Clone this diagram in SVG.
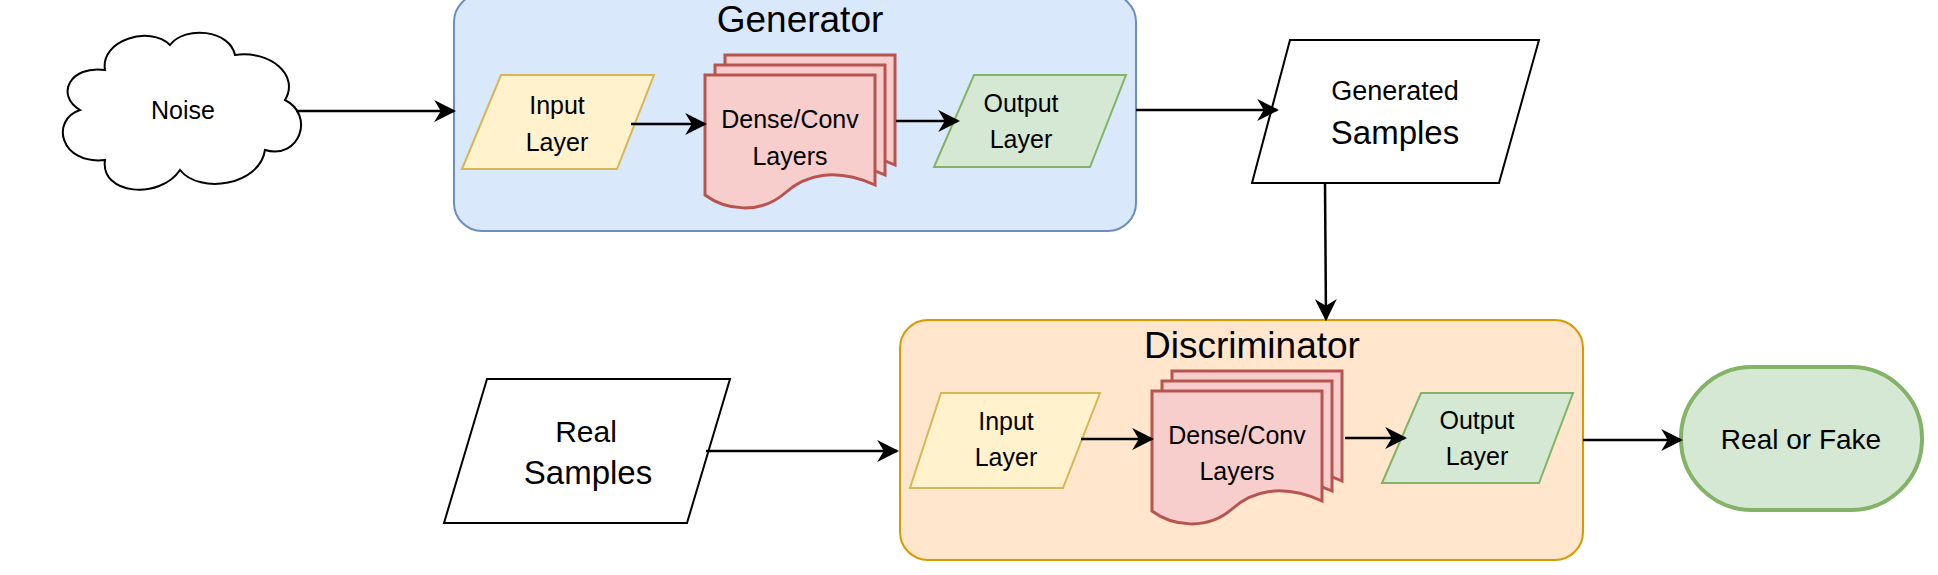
<svg xmlns="http://www.w3.org/2000/svg" width="1938" height="575" viewBox="0 0 1938 575">
<style>
text{font-family:"Liberation Sans",Arial,sans-serif;text-anchor:middle;fill:#000}
.c{stroke:#000;stroke-width:2.5;fill:none}
.in{fill:#fff2cc;stroke:#d6b656;stroke-width:2}
.out{fill:#d5e8d4;stroke:#82b366;stroke-width:2}
.doc{fill:#f8cecc;stroke:#b85450;stroke-width:3}
.wp{fill:#fff;stroke:#000;stroke-width:2}
.s{font-size:25px}
</style>
<defs>
<marker id="a" viewBox="0 0 10 10" refX="9" refY="5" markerWidth="9" markerHeight="9" markerUnits="userSpaceOnUse" orient="auto"><path d="M0,0 L10,5 L0,10 L3,5 Z" fill="#000"/></marker>
<marker id="ah" viewBox="0 0 10 10" refX="9" refY="5" markerWidth="22" markerHeight="22" markerUnits="userSpaceOnUse" orient="auto"><path d="M0,0 L10,5 L0,10 L3,5 Z" fill="#000"/></marker>
<path id="d" d="M0,0 H170 V110 C130,92 100,100 80,118 C55,140 20,135 0,120 Z"/>
</defs>
<g id="generator">
<rect x="454" y="-6" width="682" height="237" rx="28" fill="#dae8fc" stroke="#6c8ebf" stroke-width="2"/>
<text x="800" y="32" font-size="37">Generator</text>
</g>
<g id="noise">
<path class="wp" d="M105,70 C100,40 150,25 170,45 C185,25 230,30 235,55 C270,50 300,75 285,100 C315,115 300,160 265,150 C260,185 200,195 180,170 C160,200 100,195 105,160 C60,165 50,120 80,110 C55,95 70,65 105,70 Z"/>
<text x="183" y="119" class="s">Noise</text>
</g>
<g id="g-input">
<polygon class="in" points="501,75 654,75 617,169 462,169"/>
<text x="557" y="114" class="s">Input</text><text x="557" y="151" class="s">Layer</text>
</g>
<g id="g-dense">
<use href="#d" x="725" y="55" class="doc"/>
<use href="#d" x="715" y="65" class="doc"/>
<use href="#d" x="705" y="75" class="doc"/>
<text x="790" y="128" class="s">Dense/Conv</text><text x="790" y="165" class="s">Layers</text>
</g>
<g id="g-output">
<polygon class="out" points="974,75 1126,75 1090,167 934,167"/>
<text x="1021" y="112" class="s">Output</text><text x="1021" y="148" class="s">Layer</text>
</g>
<g id="generated">
<polygon class="wp" points="1290,40 1539,40 1499,183 1252,183"/>
<text x="1395" y="100" font-size="27">Generated</text><text x="1395" y="144" font-size="33">Samples</text>
</g>
<g id="discriminator">
<rect x="900" y="320" width="683" height="240" rx="28" fill="#ffe6cc" stroke="#d79b00" stroke-width="2"/>
<text x="1252" y="358" font-size="37">Discriminator</text>
</g>
<g id="real">
<polygon class="wp" points="487,379 730,379 687,523 444,523"/>
<text x="586" y="442" font-size="30">Real</text><text x="588" y="484" font-size="33">Samples</text>
</g>
<g id="d-input">
<polygon class="in" points="941,393 1100,393 1063,488 910,488"/>
<text x="1006" y="430" class="s">Input</text><text x="1006" y="466" class="s">Layer</text>
</g>
<g id="d-dense">
<use href="#d" x="1172" y="371" class="doc"/>
<use href="#d" x="1162" y="381" class="doc"/>
<use href="#d" x="1152" y="391" class="doc"/>
<text x="1237" y="444" class="s">Dense/Conv</text><text x="1237" y="480" class="s">Layers</text>
</g>
<g id="d-output">
<polygon class="out" points="1421,393 1573,393 1539,483 1382,483"/>
<text x="1477" y="429" class="s">Output</text><text x="1477" y="465" class="s">Layer</text>
</g>
<g id="result">
<rect x="1681" y="367" width="241" height="143" rx="71" fill="#d5e8d4" stroke="#82b366" stroke-width="4"/>
<text x="1801" y="449" font-size="28">Real or Fake</text>
</g>
<g id="connectors">
<path class="c" d="M296,111 H454" marker-end="url(#ah)"/>
<path class="c" d="M631,124 H705" marker-end="url(#ah)"/>
<path class="c" d="M896,121 H958" marker-end="url(#ah)"/>
<path class="c" d="M1136,110 H1277" marker-end="url(#ah)"/>
<path class="c" d="M1325,183 L1326,319" marker-end="url(#ah)"/>
<path class="c" d="M706,451 H897" marker-end="url(#ah)"/>
<path class="c" d="M1081,439 H1152" marker-end="url(#ah)"/>
<path class="c" d="M1345,438 H1405" marker-end="url(#ah)"/>
<path class="c" d="M1583,440 H1681" marker-end="url(#ah)"/>
</g>
</svg>
